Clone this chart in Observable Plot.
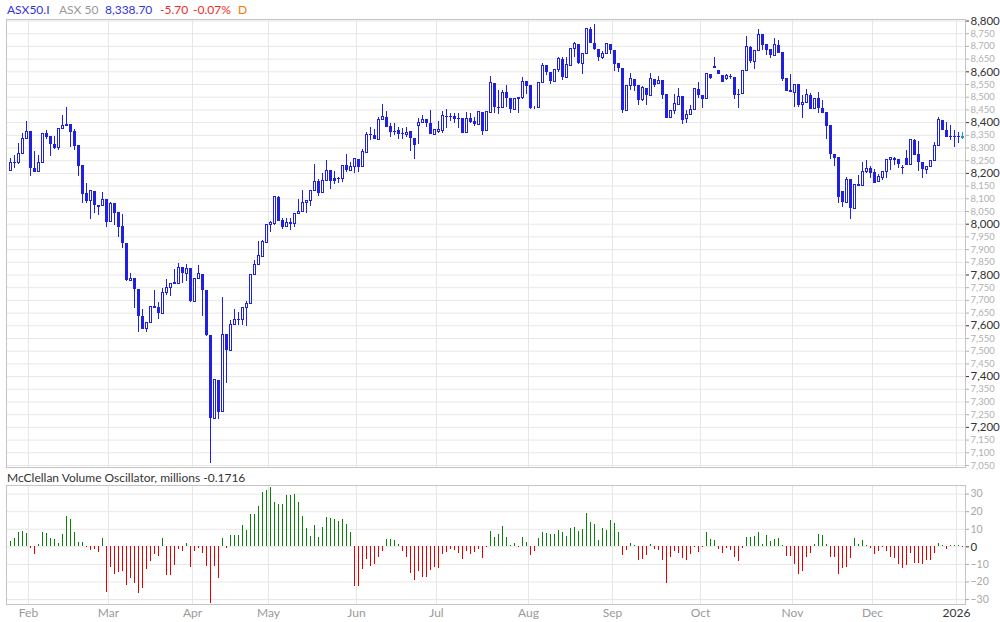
<!DOCTYPE html>
<html><head><meta charset="utf-8">
<script src="https://cdn.jsdelivr.net/npm/d3@7"></script>
<script src="https://cdn.jsdelivr.net/npm/@observablehq/plot@0.6"></script>
<style>
body{margin:0;background:#fff;font-family:Lato,"DejaVu Sans",sans-serif;}
#wrap{position:relative;width:1000px;height:622px;overflow:hidden;background:#fff;}
#wrap svg{position:absolute;left:0;overflow:visible;}
.t{position:absolute;font-size:12px;line-height:12px;white-space:pre;font-family:Lato,sans-serif;}
</style></head><body>
<div id="wrap">
  <span class="t" style="left:7px;top:4px;color:#3434e0">ASX50.I</span>
  <span class="t" style="left:59px;top:4px;color:#999">ASX 50</span>
  <span class="t" style="left:105px;top:4px;color:#3434e0">8,338.70</span>
  <span class="t" style="left:160px;top:4px;color:#f02a2a">-5.70</span>
  <span class="t" style="left:193px;top:4px;color:#f02a2a">-0.07%</span>
  <span class="t" style="left:238px;top:4px;color:#f57c00">D</span>
  <span class="t" style="left:7px;top:472px;color:#333">McClellan Volume Oscillator, millions -0.1716</span>
</div>
<script>
// Trading-day candles (index 0 = 24 Jan 2025 ... 238 = 5 Jan 2026)
const open = [8210,8240,8241,8277,8336,8364,8218,8205,8241,8356,8344,8312,8299,8375,8392,8392,8365,8308,8231,8119,
8090,8128,8072,8072,8097,8008,8080,8046,7991,7923,7777,7786,7742,7637,7589,7611,7675,7673,7647,7729,
7749,7766,7766,7829,7805,7825,7694,7786,7802,7740,7562,7234,7385,7260,7565,7501,7604,7624,7624,7671,
7687,7799,7841,7872,7927,7995,8001,8106,8014,7988,8005,8001,8041,8050,8084,8093,8132,8168,8122,8172,
8211,8181,8180,8178,8231,8211,8227,8255,8224,8281,8353,8349,8332,8412,8421,8385,8366,8367,8356,8352,
8365,8336,8386,8399,8412,8398,8352,8365,8366,8425,8424,8424,8415,8415,8358,8415,8404,8391,8441,8366,
8439,8555,8458,8456,8520,8496,8450,8494,8498,8560,8548,8461,8456,8555,8623,8599,8561,8606,8649,8577,
8623,8688,8708,8632,8671,8767,8712,8688,8656,8669,8708,8685,8632,8614,8446,8543,8571,8548,8488,8535,
8505,8571,8551,8564,8509,8417,8446,8469,8501,8413,8429,8448,8531,8508,8492,8590,8619,8606,8586,8570,
8582,8579,8511,8511,8605,8696,8639,8683,8746,8707,8687,8664,8704,8677,8572,8528,8518,8550,8469,8478,
8508,8452,8494,8456,8439,8387,8276,8263,8130,8084,8175,8060,8149,8149,8204,8220,8204,8165,8181,8207,
8252,8260,8254,8222,8259,8233,8331,8273,8241,8213,8226,8250,8309,8409,8370,8344,8344,8344,8344];
const high = [8257,8270,8316,8357,8404,8364,8286,8270,8356,8369,8344,8344,8375,8428,8461,8392,8373,8308,8231,8159,
8132,8128,8074,8124,8097,8084,8080,8046,8037,7923,7807,7786,7742,7665,7610,7675,7740,7690,7746,7783,
7766,7822,7845,7829,7841,7825,7786,7838,7802,7740,7562,7385,7385,7713,7565,7622,7665,7654,7671,7696,
7799,7858,7931,7935,7995,8010,8109,8109,8021,8021,8021,8041,8097,8132,8093,8132,8235,8176,8198,8251,
8211,8207,8185,8231,8274,8244,8260,8255,8294,8360,8382,8371,8419,8471,8444,8398,8395,8382,8375,8382,
8365,8336,8417,8428,8412,8448,8371,8404,8445,8450,8437,8437,8434,8415,8438,8434,8421,8441,8441,8441,
8580,8555,8527,8527,8548,8496,8494,8498,8577,8560,8548,8463,8555,8632,8623,8599,8606,8658,8658,8658,
8688,8715,8708,8671,8767,8776,8787,8688,8679,8708,8708,8685,8632,8614,8543,8595,8571,8548,8544,8535,
8594,8571,8580,8564,8509,8446,8511,8535,8501,8448,8469,8531,8557,8508,8590,8590,8658,8606,8586,8590,
8590,8579,8531,8605,8740,8700,8683,8766,8746,8707,8687,8730,8723,8677,8572,8589,8550,8550,8508,8531,
8514,8494,8518,8487,8439,8387,8276,8263,8130,8184,8175,8158,8191,8243,8252,8226,8217,8197,8207,8252,
8263,8262,8254,8233,8289,8331,8335,8324,8241,8226,8250,8322,8422,8409,8400,8387,8367,8361,8362];
const low = [8208,8221,8234,8273,8335,8189,8204,8204,8238,8332,8268,8294,8291,8374,8385,8303,8291,8189,8083,8083,
8017,8043,8035,8072,7988,8007,7995,7946,7905,7775,7773,7667,7575,7585,7572,7610,7669,7623,7647,7720,
7717,7762,7766,7766,7773,7690,7694,7786,7635,7556,7059,7234,7230,7260,7372,7501,7604,7602,7602,7599,
7687,7799,7841,7870,7927,7968,7995,8012,7978,7988,7975,7988,8041,8047,8043,8071,8132,8110,8122,8172,
8136,8156,8159,8165,8205,8211,8198,8205,8224,8281,8329,8332,8332,8412,8382,8342,8349,8333,8332,8342,
8287,8253,8312,8395,8382,8352,8352,8356,8356,8375,8404,8395,8375,8356,8358,8395,8385,8391,8349,8366,
8439,8437,8430,8456,8459,8437,8450,8437,8492,8511,8450,8453,8456,8555,8586,8551,8561,8597,8567,8577,
8623,8656,8627,8590,8671,8711,8685,8639,8647,8669,8669,8601,8599,8435,8446,8525,8522,8469,8483,8468,
8505,8538,8551,8492,8417,8417,8433,8469,8393,8396,8429,8448,8496,8456,8492,8570,8619,8588,8557,8564,
8570,8491,8456,8511,8605,8631,8609,8683,8683,8664,8651,8664,8674,8563,8521,8518,8459,8459,8416,8478,
8452,8452,8435,8437,8332,8256,8228,8080,8067,8084,8019,8060,8149,8149,8200,8178,8162,8165,8171,8181,
8213,8230,8220,8197,8233,8233,8272,8207,8180,8197,8226,8250,8309,8367,8341,8331,8302,8318,8333];
const close = [8241,8242,8277,8336,8364,8218,8205,8241,8356,8343,8312,8299,8375,8387,8386,8362,8307,8228,8118,8090,
8130,8072,8072,8097,8008,8080,8044,7988,7923,7777,7786,7742,7635,7586,7610,7675,7669,7647,7731,7749,
7766,7767,7829,7805,7825,7694,7786,7802,7740,7560,7234,7385,7260,7565,7501,7604,7624,7624,7671,7687,
7799,7841,7874,7928,7995,8004,8106,8012,7988,8005,8005,8041,8050,8084,8093,8132,8168,8122,8172,8211,
8169,8169,8180,8231,8211,8227,8255,8224,8283,8353,8348,8332,8412,8421,8382,8362,8366,8352,8356,8361,
8336,8310,8399,8412,8395,8352,8371,8371,8428,8425,8424,8411,8411,8358,8415,8402,8391,8441,8366,8441,
8555,8458,8458,8518,8496,8450,8494,8498,8560,8544,8456,8459,8555,8623,8597,8561,8606,8649,8577,8626,
8688,8708,8632,8671,8767,8711,8688,8656,8669,8708,8682,8629,8612,8446,8543,8571,8544,8488,8535,8505,
8571,8548,8564,8505,8417,8446,8472,8501,8410,8429,8448,8531,8508,8492,8590,8573,8619,8588,8557,8583,
8577,8508,8511,8605,8696,8639,8683,8746,8704,8683,8664,8704,8674,8570,8524,8518,8550,8469,8478,8508,
8452,8494,8455,8437,8384,8276,8260,8106,8084,8175,8060,8154,8154,8204,8217,8200,8162,8184,8207,8252,
8259,8252,8234,8219,8233,8331,8272,8241,8215,8226,8250,8309,8409,8370,8341,8344,8344,8344,8339];
// McClellan Volume Oscillator, millions (one value per trading day)
const oscillator = [3.0,4.8,8.2,8.8,7.8,-1.0,-4.2,1.3,8.2,7.8,4.8,4.4,2.1,7.0,17.5,15.8,8.4,2.5,2.7,-0.4,
-1.9,-1.3,-3.4,4.8,-25.9,-11.6,-15.6,-14.5,-14.3,-21.9,-17.9,-21.1,-26.5,-23.6,-13.0,-8.6,-4.4,-5.7,4.8,-16.2,
-16.2,-10.7,-1.5,-2.9,1.9,-11.6,-2.9,-1.1,-4.0,-11.0,-32.2,-11.0,-17.9,4.8,-0.8,6.3,6.3,6.3,12.2,9.3,
18.5,18.5,22.7,31.0,31.8,33.9,25.0,24.2,24.2,29.3,29.3,29.7,25.3,17.5,10.7,6.1,12.4,5.3,11.0,16.8,
16.0,15.6,14.7,15.4,12.6,8.4,-22.7,-22.7,-13.0,-7.2,-11.0,-10.1,-5.9,-2.7,4.2,4.2,3.6,1.3,-2.7,-5.9,
-15.4,-18.9,-14.3,-17.3,-17.3,-13.7,-11.6,-12.2,-4.2,-3.0,-1.3,-2.3,-3.8,-7.2,-2.7,-4.6,-3.4,-1.5,-6.7,-0.4,
8.8,5.3,7.2,11.8,5.5,0.6,2.1,-0.4,5.5,2.7,-4.8,-2.5,4.8,8.4,7.8,6.9,7.2,9.3,8.4,6.1,
10.7,11.2,9.0,9.9,18.7,14.1,12.6,3.8,10.7,9.5,15.0,13.5,8.4,-4.8,-2.1,1.9,0.8,-7.6,-7.0,-4.8,
1.3,-1.5,-2.1,-7.6,-20.8,-5.9,-2.5,-3.6,-6.7,-7.6,-4.2,-0.4,-3.4,-0.2,8.2,4.2,3.6,-1.3,-3.6,-0.8,
-1.9,-6.3,-8.2,-0.8,5.3,5.3,5.9,8.2,1.3,6.5,3.2,4.4,4.8,1.0,-5.7,-5.7,-9.9,-15.6,-13.9,-6.3,
-4.0,1.3,7.0,6.5,1.3,-5.9,-5.9,-15.6,-12.2,-11.6,-6.7,4.8,1.3,3.6,0.8,-1.0,-4.2,-2.5,-0.4,-2.7,
-5.9,-6.9,-10.3,-12.2,-10.5,-3.6,-9.3,-9.3,-9.9,-7.8,-7.8,-3.6,1.9,0.8,-1.3,0.8,0.8,0.8,-0.2];
// x-axis: first trading day (index) of each month, and its label
const monthStartIndex = [5,25,46,65,87,107,130,151,173,196,216,237];
const monthLabels = ["Feb","Mar","Apr","May","Jun","Jul","Aug","Sep","Oct","Nov","Dec","2026"];
const priceMajorTicks = [7200,7400,7600,7800,8000,8200,8400,8600,8800];
const priceMinorTicks = d3.range(7050, 8801, 50).filter(v => v % 200 !== 0);
const oscTicks = [-30,-20,-10,0,10,20,30];

const BLUE = "#2020e2", LAST = "#1f93d8", GREEN = "#0a820a", RED = "#e00000", GRID = "#e7e7e7", FRAME = "#c4c4c4";
const n = open.length;
const candles = d3.range(n).map(i => ({i, o: open[i], h: high[i], l: low[i], c: close[i]}));
const body = candles.slice(0, n - 1);
const lastC = candles.slice(n - 1);
const down = body.filter(d => d.c < d.o);
const up = body.filter(d => d.c > d.o);
const doji = body.filter(d => d.c === d.o);
const gridXs = monthStartIndex.map(i => i - 0.5);
const xDomain = [-1, 238.75];
const fmt = d3.format(",");
const crisp = {shapeRendering: "crispEdges"};

const main = Plot.plot({
  width: 1000, height: 470, marginTop: 19, marginBottom: 3, marginLeft: 6, marginRight: 35,
  style: {fontFamily: "Lato, sans-serif", background: "transparent"},
  x: {type: "linear", domain: xDomain, axis: null},
  y: {domain: [7042, 8806], axis: null},
  marks: [
    Plot.gridY(d3.range(7050, 8801, 50), {stroke: GRID, strokeOpacity: 1}),
    Plot.gridX(gridXs, {stroke: GRID, strokeOpacity: 1}),
    Plot.frame({stroke: FRAME}),
    Plot.axisY(priceMinorTicks, {anchor: "right", label: null, tickSize: 3, tickPadding: 2, fontSize: 9.5, color: "#b0b0b0", tickFormat: fmt}),
    Plot.axisY(priceMajorTicks, {anchor: "right", label: null, tickSize: 3, tickPadding: 2, fontSize: 11.5, color: "#333", tickFormat: fmt}),
    Plot.ruleX(body, {x: "i", y1: "l", y2: "h", stroke: BLUE, strokeWidth: 1, ...crisp}),
    Plot.rect(down, {x1: d => d.i - 0.375, x2: d => d.i + 0.375, y1: "o", y2: "c", fill: BLUE, ...crisp}),
    Plot.rect(up, {x1: d => d.i - 0.25, x2: d => d.i + 0.25, y1: "o", y2: "c", fill: "white", stroke: BLUE, strokeWidth: 1, ...crisp}),
    Plot.ruleY(doji, {y: "c", x1: d => d.i - 0.375, x2: d => d.i + 0.375, stroke: BLUE, strokeWidth: 1.2, ...crisp}),
    Plot.ruleX(lastC, {x: "i", y1: "l", y2: "h", stroke: LAST, strokeWidth: 1, ...crisp}),
    Plot.rect(lastC, {x1: d => d.i - 0.375, x2: d => d.i + 0.375, y1: "o", y2: "c", fill: LAST, ...crisp})
  ]
});
main.style.top = "0px";

const osc = d3.range(n).map(i => ({i, v: oscillator[i]}));
const lower = Plot.plot({
  width: 1000, height: 152, marginTop: 15, marginBottom: 18, marginLeft: 6, marginRight: 35,
  style: {fontFamily: "Lato, sans-serif", background: "transparent"},
  x: {type: "linear", domain: xDomain, axis: null},
  y: {domain: [-32.8, 34.9], axis: null},
  marks: [
    Plot.gridY(oscTicks, {stroke: GRID, strokeOpacity: 1}),
    Plot.gridX(gridXs, {stroke: GRID, strokeOpacity: 1}),
    Plot.frame({stroke: FRAME}),
    Plot.ruleX(osc.filter(d => d.v >= 0), {x: "i", y1: 0, y2: "v", stroke: GREEN, strokeWidth: 1, ...crisp}),
    Plot.ruleX(osc.filter(d => d.v < 0), {x: "i", y1: 0, y2: "v", stroke: RED, strokeWidth: 1, ...crisp}),
    Plot.axisY(oscTicks.filter(v => v !== 0), {anchor: "right", label: null, tickSize: 3, tickPadding: 2, fontSize: 10.5, color: "#a8a8a8"}),
    Plot.axisY([0], {anchor: "right", label: null, tickSize: 3, tickPadding: 2, fontSize: 11.5, color: "#333"}),
    Plot.axisX(gridXs.slice(0, -1), {anchor: "bottom", label: null, tickSize: 0, tickPadding: 4, fontSize: 12, color: "#9a9a9a",
      tickFormat: (d, k) => monthLabels[k]}),
    Plot.axisX(gridXs.slice(-1), {anchor: "bottom", label: null, tickSize: 0, tickPadding: 4, fontSize: 12, color: "#333",
      tickFormat: () => monthLabels[monthLabels.length - 1]})
  ]
});
lower.style.top = "470px";

const wrap = document.getElementById("wrap");
wrap.insertBefore(main, wrap.firstChild);
wrap.insertBefore(lower, wrap.firstChild);
</script>
</body></html>
